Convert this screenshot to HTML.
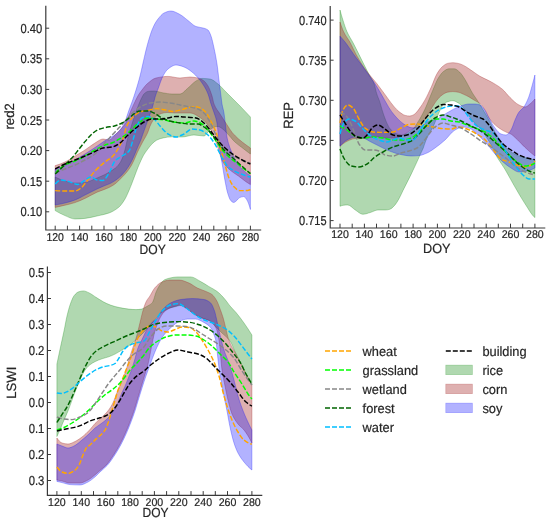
<!DOCTYPE html>
<html><head><meta charset="utf-8"><title>chart</title>
<style>html,body{margin:0;padding:0;background:#fff}svg{display:block}text{text-rendering:geometricPrecision;font-family:"Liberation Sans",sans-serif;fill:#262626;stroke:#262626;stroke-width:0.2px}</style>
</head><body>
<svg width="550" height="522" viewBox="0 0 550 522">
<rect width="550" height="522" fill="#fff"/>
<path d="M55.2,177.0C58.5,178.7 61.7,180.1 65.0,181.0C68.3,181.9 71.7,183.0 75.0,183.0C78.3,183.0 81.7,182.7 85.0,182.4C89.0,182.0 93.0,179.6 97.0,178.0C99.7,176.9 102.3,175.8 105.0,174.5C106.7,173.7 108.3,172.6 110.0,171.6C111.9,170.4 113.8,169.4 115.7,167.8C117.3,166.4 118.9,164.6 120.5,162.0C121.5,160.4 122.4,158.0 123.4,155.3C124.0,153.5 124.7,151.1 125.3,148.6C125.9,146.1 126.6,142.5 127.2,140.0C128.1,136.6 128.9,133.9 129.8,131.0C130.8,127.8 131.7,124.6 132.7,121.6C133.6,118.7 134.6,115.7 135.5,113.0C136.5,110.2 137.4,107.7 138.4,105.3C139.4,102.9 140.3,100.5 141.3,98.6C142.3,96.7 143.2,94.7 144.2,93.8C145.5,92.6 146.7,91.6 148.0,91.4C149.9,91.1 151.8,91.0 153.7,91.0C156.9,91.0 160.1,92.4 163.3,92.9C166.2,93.3 169.1,94.0 172.0,94.0C174.7,94.0 177.3,94.0 180.0,94.0C182.7,94.0 185.3,90.2 188.0,88.0C190.7,85.8 193.3,82.5 196.0,81.0C198.0,79.9 200.0,78.4 202.0,78.4C204.7,78.4 207.3,78.6 210.0,79.0C212.7,79.4 215.3,81.9 218.0,84.0C220.7,86.1 223.3,89.3 226.0,92.0C227.3,93.3 228.7,94.7 230.0,96.0C233.3,99.3 236.7,102.6 240.0,106.0C243.5,109.6 246.9,113.2 250.4,117.0L250.4,154.0C247.5,151.8 244.5,149.6 241.6,147.3C239.4,145.6 237.1,144.1 234.9,142.0C232.2,139.5 229.5,135.7 226.8,133.0C225.2,131.4 223.6,129.5 222.0,128.5C220.7,127.6 219.3,126.5 218.0,126.5C216.3,126.5 214.7,126.9 213.0,127.5C211.7,127.9 210.3,129.8 209.0,131.0C207.3,132.6 205.7,136.0 204.0,136.0C200.7,136.0 197.3,135.0 194.0,135.0C190.0,135.0 186.0,137.0 182.0,137.0C178.7,137.0 175.3,136.8 172.0,136.8C169.1,136.8 166.2,137.4 163.3,137.9C161.2,138.3 159.0,139.0 156.9,140.0C155.3,140.8 153.7,142.3 152.1,143.8C150.5,145.3 149.0,147.5 147.4,149.6C146.1,151.3 144.8,153.1 143.5,155.3C142.6,156.9 141.6,159.1 140.7,161.1C139.7,163.2 138.8,165.4 137.8,167.8C136.8,170.2 135.9,172.9 134.9,175.4C133.9,177.9 133.0,180.6 132.0,183.1C131.1,185.5 130.1,187.9 129.2,190.0C127.8,193.2 126.4,196.7 125.0,199.0C123.0,202.3 121.0,205.3 119.0,207.0C115.7,209.8 112.3,211.8 109.0,213.0C105.0,214.4 101.0,215.1 97.0,216.0C93.0,216.9 89.0,218.0 85.0,218.4C81.7,218.7 78.3,219.0 75.0,219.0C71.7,219.0 68.3,217.0 65.0,215.6C61.7,214.3 58.5,212.5 55.2,210.6Z" fill="#008000" fill-opacity="0.31" stroke="#008000" stroke-opacity="0.31" stroke-width="0.9"/>
<path d="M55.2,165.6C58.5,164.8 61.7,163.5 65.0,162.0C68.3,160.5 71.7,158.0 75.0,156.0C78.3,154.0 81.7,152.2 85.0,150.0C88.3,147.8 91.7,144.9 95.0,143.0C97.7,141.5 100.3,139.0 103.0,139.0C105.0,139.0 107.0,140.0 109.0,140.0C111.3,140.0 113.7,136.2 116.0,134.0C118.0,132.2 120.0,130.3 122.0,128.0C123.3,126.4 124.7,124.8 126.0,122.5C127.6,119.8 129.1,114.7 130.7,111.1C132.0,108.1 133.3,105.2 134.6,102.5C135.9,99.9 137.1,97.1 138.4,95.0C139.6,93.0 140.8,91.6 142.0,90.0C143.7,87.8 145.3,85.5 147.0,84.0C150.0,81.4 153.0,78.7 156.0,78.0C160.0,77.1 164.0,76.4 168.0,76.4C172.0,76.4 176.0,78.0 180.0,78.0C183.3,78.0 186.7,77.0 190.0,77.0C192.7,77.0 195.3,77.5 198.0,78.0C200.0,78.4 202.0,79.5 204.0,81.0C205.3,82.0 206.7,83.8 208.0,86.0C209.3,88.2 210.7,91.8 212.0,96.0C212.7,98.1 213.3,102.3 214.0,104.0C216.0,109.1 218.0,110.8 220.0,114.0C222.3,117.6 224.5,121.1 226.8,124.5C228.6,127.2 230.4,130.4 232.2,132.6C234.4,135.3 236.7,137.3 238.9,139.3C241.1,141.3 243.4,142.9 245.6,144.6C247.2,145.8 248.8,146.9 250.4,148.0L250.4,184.6C248.9,183.7 247.4,182.7 245.9,181.7C243.5,180.0 241.1,177.9 238.7,176.2C237.0,175.0 235.4,174.0 233.7,172.8C231.7,171.3 229.8,170.0 227.8,168.0C226.1,166.3 224.5,164.6 222.8,161.7C220.5,157.8 218.3,147.8 216.0,142.0C214.0,136.8 212.0,131.1 210.0,128.0C207.3,123.9 204.7,120.9 202.0,119.0C198.0,116.2 194.0,113.0 190.0,113.0C185.0,113.0 180.0,113.0 175.0,113.0C172.4,113.0 169.7,112.5 167.1,112.5C165.2,112.5 163.3,113.0 161.4,113.5C159.8,113.9 158.2,114.7 156.6,115.9C155.3,116.8 154.1,118.7 152.8,120.7C151.8,122.2 150.9,124.2 149.9,126.4C149.1,128.3 148.3,131.3 147.5,133.1C146.3,135.7 145.2,137.4 144.0,139.5C142.8,141.6 141.7,143.7 140.5,146.0C139.4,148.1 138.4,150.2 137.3,152.5C136.3,154.6 135.4,157.1 134.4,159.2C133.3,161.6 132.2,164.0 131.1,165.9C129.7,168.3 128.2,170.3 126.8,172.1C125.0,174.3 123.3,176.0 121.5,177.8C119.6,179.8 117.6,181.9 115.7,183.4C113.8,184.9 111.9,186.0 110.0,187.0C108.3,187.9 106.7,188.5 105.0,189.2C102.3,190.3 99.7,191.1 97.0,192.2C93.0,193.9 89.0,196.6 85.0,198.4C81.7,199.9 78.3,201.5 75.0,202.6C71.7,203.7 68.3,204.4 65.0,205.2C61.7,206.0 58.5,206.7 55.2,207.4Z" fill="#a52a2a" fill-opacity="0.37" stroke="#a52a2a" stroke-opacity="0.37" stroke-width="0.9"/>
<path d="M55.2,169.0C58.5,168.1 61.7,166.9 65.0,165.5C68.3,164.1 71.7,161.9 75.0,160.0C78.3,158.1 81.7,156.1 85.0,154.0C88.3,151.9 91.7,149.7 95.0,147.5C97.7,145.7 100.3,143.8 103.0,142.0C104.0,141.3 105.0,140.6 106.0,140.0C109.3,137.9 112.7,136.7 116.0,134.0C118.7,131.8 121.3,128.7 124.0,124.0C125.7,121.0 127.3,114.5 129.0,110.0C130.0,107.3 131.0,104.8 132.0,102.0C133.3,98.2 134.7,94.3 136.0,90.0C137.3,85.7 138.7,81.2 140.0,76.0C141.0,72.1 142.0,67.3 143.0,63.0C144.0,58.7 145.0,54.0 146.0,50.0C147.0,46.0 148.0,42.3 149.0,39.0C150.0,35.7 151.0,32.5 152.0,30.0C153.0,27.5 154.0,25.3 155.0,23.5C156.0,21.7 157.0,20.2 158.0,19.0C160.0,16.5 162.0,13.9 164.0,13.0C166.3,11.9 168.7,11.0 171.0,11.0C174.0,11.0 177.0,13.0 180.0,14.5C182.7,15.9 185.3,18.5 188.0,20.5C190.7,22.5 193.3,25.6 196.0,26.5C198.7,27.4 201.3,27.4 204.0,28.2C205.3,28.6 206.7,29.0 208.0,30.0C209.0,30.8 210.0,33.3 211.0,36.0C212.0,38.7 213.0,43.4 214.0,48.0C215.0,52.6 216.0,57.5 217.0,64.0C217.7,68.3 218.3,74.7 219.0,80.0C219.7,85.3 220.3,90.7 221.0,96.0C221.3,98.7 221.7,102.0 222.0,104.0C222.6,107.5 223.2,108.6 223.8,112.0C224.4,115.2 224.9,120.4 225.5,125.0C225.9,128.5 226.4,133.5 226.8,136.0C227.5,140.2 228.3,142.7 229.0,145.0C229.9,147.9 230.8,150.0 231.7,152.0C233.7,156.5 235.7,160.8 237.7,163.7C239.7,166.6 241.7,168.9 243.7,170.7C245.9,172.7 248.2,174.5 250.4,175.7L250.4,209.5C249.2,205.1 247.9,201.4 246.7,199.6C245.7,198.2 244.7,196.6 243.7,196.6C242.4,196.6 241.0,197.1 239.7,197.6C238.7,198.0 237.7,199.7 236.7,200.5C235.7,201.3 234.7,202.5 233.7,202.5C232.7,202.5 231.7,201.5 230.7,200.5C229.7,199.5 228.8,196.6 227.8,193.6C226.8,190.5 225.8,185.0 224.8,179.7C224.1,176.2 223.5,171.7 222.8,167.7C221.8,161.7 220.8,157.1 219.8,149.8C218.8,142.5 217.8,126.9 216.8,122.0C215.8,117.1 214.8,115.1 213.8,112.0C212.9,109.1 211.9,106.9 211.0,104.0C210.0,100.9 209.0,96.5 208.0,94.0C206.7,90.6 205.3,88.2 204.0,86.0C202.3,83.2 200.7,81.0 199.0,79.0C196.7,76.3 194.3,73.8 192.0,72.0C189.3,69.9 186.7,68.0 184.0,67.0C181.3,66.0 178.7,65.0 176.0,65.0C173.3,65.0 170.7,67.0 168.0,69.0C166.3,70.3 164.7,73.0 163.0,76.0C161.3,79.0 159.7,84.6 158.0,89.0C157.2,91.2 156.3,93.1 155.5,95.7C154.9,97.6 154.3,100.3 153.7,102.5C153.1,104.8 152.4,107.2 151.8,109.2C151.0,111.7 150.2,113.7 149.4,115.9C148.6,118.1 147.8,120.4 147.0,122.6C146.2,124.8 145.4,127.1 144.6,129.3C143.8,131.5 143.0,133.7 142.2,136.0C141.7,137.3 141.3,138.8 140.8,140.0C140.1,141.8 139.4,143.2 138.7,144.8C137.9,146.7 137.1,148.6 136.3,150.5C135.4,152.7 134.4,155.2 133.5,157.2C132.4,159.7 131.2,161.9 130.1,163.9C128.8,166.1 127.6,168.0 126.3,169.7C124.7,171.8 123.1,173.8 121.5,175.4C119.6,177.3 117.6,178.9 115.7,180.2C113.8,181.5 111.9,182.7 110.0,183.6C108.3,184.4 106.7,184.8 105.0,185.5C102.3,186.6 99.7,187.8 97.0,189.0C93.0,190.9 89.0,193.0 85.0,195.0C81.7,196.7 78.3,198.8 75.0,200.0C71.7,201.2 68.3,202.2 65.0,203.0C61.7,203.8 58.5,204.5 55.2,205.0Z" fill="#0000ff" fill-opacity="0.3" stroke="#0000ff" stroke-opacity="0.3" stroke-width="0.9"/>
<path d="M55.2,190.6C58.5,190.8 61.7,191.0 65.0,191.0C68.3,191.0 71.7,191.0 75.0,191.0C77.0,191.0 79.0,189.4 81.0,188.0C83.0,186.6 85.0,183.4 87.0,181.0C89.7,177.8 92.3,173.8 95.0,171.0C98.3,167.5 101.7,164.7 105.0,162.0C107.7,159.8 110.3,158.7 113.0,156.0C115.0,154.0 117.0,150.6 119.0,147.0C120.7,144.0 122.3,140.9 124.0,136.0C124.7,134.0 125.3,129.7 126.0,128.0C128.0,122.9 130.0,120.1 132.0,118.0C134.7,115.2 137.3,112.9 140.0,112.0C143.3,110.9 146.5,110.6 149.8,109.9C152.0,109.4 154.2,108.6 156.4,108.6C159.1,108.6 161.8,109.3 164.5,109.8C167.2,110.3 170.0,111.4 172.7,111.4C175.4,111.4 178.2,110.5 180.9,109.9C183.6,109.3 186.4,108.0 189.1,107.5C191.3,107.1 193.4,106.7 195.6,106.7C197.8,106.7 200.0,107.8 202.2,109.0C203.8,109.9 205.5,111.7 207.1,113.9C208.2,115.4 209.3,118.1 210.4,120.3C211.1,121.7 211.8,123.1 212.5,124.5C213.7,126.9 214.8,128.9 216.0,132.0C217.3,135.5 218.7,141.2 220.0,146.0C221.6,151.7 223.2,158.0 224.8,163.7C226.1,168.5 227.5,174.5 228.8,177.7C230.4,181.6 232.1,185.0 233.7,186.6C235.7,188.6 237.7,190.6 239.7,190.6C241.7,190.6 243.7,190.6 245.7,190.6C247.3,190.6 248.8,190.1 250.4,189.6" fill="none" stroke="#ffa500" stroke-width="1.45" stroke-dasharray="5 2"/>
<path d="M55.2,173.0C58.5,169.7 61.7,166.8 65.0,165.0C68.3,163.2 71.7,162.5 75.0,161.0C78.3,159.5 81.7,157.8 85.0,156.0C88.3,154.2 91.7,151.8 95.0,150.0C98.3,148.2 101.7,146.3 105.0,145.0C107.7,144.0 110.3,143.6 113.0,142.5C115.7,141.4 118.3,139.7 121.0,138.0C123.7,136.3 126.3,134.2 129.0,132.0C132.7,129.0 136.3,124.3 140.0,122.0C142.7,120.3 145.3,118.0 148.0,118.0C150.7,118.0 153.3,118.7 156.0,119.0C158.7,119.3 161.3,119.6 164.0,120.0C167.3,120.5 170.7,121.6 174.0,122.0C177.3,122.4 180.7,123.0 184.0,123.0C187.3,123.0 190.7,121.0 194.0,121.0C196.7,121.0 199.3,122.5 202.0,124.0C204.0,125.1 206.0,127.7 208.0,130.0C210.0,132.3 212.0,135.2 214.0,138.0C216.0,140.8 218.0,144.4 220.0,147.0C222.7,150.5 225.3,153.5 228.0,156.0C231.3,159.1 234.7,161.3 238.0,164.0C240.7,166.2 243.3,168.5 246.0,170.5C247.5,171.6 248.9,172.7 250.4,173.7" fill="none" stroke="#00ff00" stroke-width="1.45" stroke-dasharray="5 2"/>
<path d="M55.2,173.0C58.5,171.7 61.7,170.3 65.0,169.0C68.3,167.7 71.7,166.5 75.0,165.0C78.3,163.5 81.7,161.8 85.0,160.0C88.3,158.2 91.7,156.6 95.0,154.0C97.3,152.2 99.7,149.2 102.0,146.5C103.6,144.7 105.1,142.6 106.7,140.8C108.2,139.1 109.8,137.6 111.3,136.0C112.8,134.4 114.4,132.5 115.9,130.9C117.2,129.6 118.4,128.3 119.7,127.0C121.8,124.8 123.9,122.3 126.0,120.0C128.7,117.1 131.3,113.7 134.0,111.5C136.7,109.3 139.3,107.3 142.0,106.0C144.7,104.7 147.3,103.4 150.0,103.0C153.3,102.5 156.7,102.0 160.0,102.0C163.3,102.0 166.7,102.6 170.0,103.0C173.3,103.4 176.7,104.3 180.0,105.0C183.3,105.7 186.7,106.3 190.0,107.0C192.7,107.6 195.3,108.0 198.0,109.0C200.0,109.7 202.0,111.2 204.0,113.0C206.0,114.8 208.0,118.5 210.0,122.0C212.0,125.5 214.0,131.3 216.0,135.0C218.7,140.0 221.3,145.1 224.0,148.0C227.3,151.6 230.7,153.9 234.0,156.0C237.3,158.1 240.7,159.7 244.0,161.0C246.1,161.8 248.3,162.5 250.4,163.0" fill="none" stroke="#888888" stroke-width="1.45" stroke-dasharray="5 2"/>
<path d="M55.2,174.0C58.6,170.9 61.9,167.7 65.3,164.4C67.9,161.9 70.4,159.6 73.0,156.7C75.0,154.4 77.1,151.5 79.1,149.0C81.1,146.5 83.2,143.8 85.2,141.4C87.3,139.0 89.3,136.4 91.4,134.5C93.4,132.7 95.5,130.8 97.5,129.9C100.1,128.8 102.6,128.2 105.2,127.6C108.3,126.9 111.3,126.7 114.4,126.0C116.9,125.4 119.5,124.3 122.0,123.0C124.6,121.7 127.1,119.6 129.7,117.6C131.1,116.5 132.6,114.7 134.0,113.8C136.0,112.6 138.0,111.0 140.0,111.0C142.7,111.0 145.3,111.0 148.0,111.0C150.0,111.0 152.0,112.1 154.0,113.0C156.7,114.1 159.3,116.8 162.0,118.0C164.7,119.2 167.3,120.3 170.0,121.0C173.3,121.9 176.7,122.6 180.0,123.0C183.3,123.4 186.7,124.0 190.0,124.0C192.7,124.0 195.3,124.0 198.0,124.0C200.0,124.0 202.0,125.8 204.0,127.0C206.0,128.2 208.0,129.9 210.0,132.0C212.0,134.1 214.0,137.4 216.0,140.0C218.7,143.4 221.3,147.2 224.0,150.0C227.3,153.5 230.7,156.0 234.0,159.0C237.3,162.0 240.7,165.1 244.0,168.0C246.1,169.9 248.3,171.7 250.4,173.5" fill="none" stroke="#006400" stroke-width="1.45" stroke-dasharray="5 2"/>
<path d="M55.2,184.0C57.1,181.9 59.1,180.0 61.0,180.0C63.7,180.0 66.3,181.0 69.0,181.6C72.0,182.3 75.0,184.4 78.0,184.4C80.3,184.4 82.7,181.3 85.0,180.0C87.0,178.9 89.0,177.0 91.0,177.0C93.0,177.0 95.0,179.8 97.0,180.0C99.0,180.2 101.0,180.4 103.0,180.4C105.0,180.4 107.0,176.1 109.0,173.0C111.0,169.9 113.0,163.1 115.0,161.0C117.3,158.5 119.7,157.7 122.0,156.0C124.3,154.3 126.7,153.8 129.0,151.0C130.3,149.4 131.7,144.1 133.0,140.0C134.3,135.9 135.7,129.0 137.0,126.0C138.7,122.3 140.3,118.8 142.0,118.0C144.0,117.1 146.0,116.4 148.0,116.4C150.0,116.4 152.0,117.7 154.0,119.0C156.0,120.3 158.0,123.8 160.0,126.0C162.7,128.9 165.3,132.5 168.0,134.0C170.7,135.5 173.3,137.0 176.0,137.0C178.7,137.0 181.3,135.2 184.0,134.0C186.7,132.8 189.3,129.0 192.0,129.0C194.7,129.0 197.3,129.4 200.0,130.0C202.7,130.6 205.3,132.7 208.0,135.0C210.1,136.8 212.2,139.8 214.3,143.0C215.7,145.2 217.2,148.3 218.6,151.0C220.0,153.7 221.5,156.5 222.9,159.0C224.3,161.5 225.8,164.4 227.2,165.9C229.1,167.9 231.1,169.1 233.0,170.2C234.9,171.3 236.8,172.2 238.7,173.0C240.6,173.8 242.6,174.5 244.5,175.2C246.5,175.9 248.4,176.5 250.4,177.0" fill="none" stroke="#00bfff" stroke-width="1.45" stroke-dasharray="5 2"/>
<path d="M55.2,169.0C58.5,167.2 61.7,165.5 65.0,164.0C68.3,162.5 71.7,161.3 75.0,160.0C78.3,158.7 81.7,157.4 85.0,156.0C88.3,154.6 91.7,153.1 95.0,151.6C97.7,150.4 100.3,148.5 103.0,148.0C106.0,147.5 109.0,147.6 112.0,147.0C114.7,146.5 117.3,144.8 120.0,143.0C122.7,141.2 125.3,137.5 128.0,135.0C130.7,132.5 133.3,130.2 136.0,128.0C138.7,125.8 141.3,123.3 144.0,122.0C146.7,120.7 149.3,119.0 152.0,119.0C154.7,119.0 157.3,119.0 160.0,119.0C162.7,119.0 165.3,118.4 168.0,118.0C170.7,117.6 173.3,116.4 176.0,116.4C178.7,116.4 181.3,116.8 184.0,117.0C188.0,117.3 192.0,117.4 196.0,118.0C198.7,118.4 201.3,120.8 204.0,123.0C206.0,124.7 208.0,127.5 210.0,130.0C212.0,132.5 214.0,135.5 216.0,138.0C218.7,141.3 221.3,144.5 224.0,147.0C227.3,150.1 230.7,152.7 234.0,155.0C237.3,157.3 240.7,159.3 244.0,161.0C246.1,162.1 248.3,163.1 250.4,164.0" fill="none" stroke="#000000" stroke-width="1.45" stroke-dasharray="5 2"/>
<path d="M45.8,5.8V230.0H261.2" fill="none" stroke="#3a3a3a" stroke-width="1.2"/>
<path d="M45.8,211.8h3.4M45.8,181.2h3.4M45.8,150.6h3.4M45.8,120.0h3.4M45.8,89.4h3.4M45.8,58.8h3.4M45.8,28.2h3.4M55.2,230.0v-4.3M67.4,230.0v-4.3M79.6,230.0v-4.3M91.8,230.0v-4.3M104.0,230.0v-4.3M116.2,230.0v-4.3M128.4,230.0v-4.3M140.6,230.0v-4.3M152.8,230.0v-4.3M165.0,230.0v-4.3M177.2,230.0v-4.3M189.4,230.0v-4.3M201.6,230.0v-4.3M213.8,230.0v-4.3M226.0,230.0v-4.3M238.2,230.0v-4.3M250.4,230.0v-4.3" stroke="#3a3a3a" stroke-width="1" fill="none"/>
<text x="42.2" y="216.3" text-anchor="end" font-size="13.0" textLength="21.7" lengthAdjust="spacingAndGlyphs">0.10</text>
<text x="42.2" y="185.7" text-anchor="end" font-size="13.0" textLength="21.7" lengthAdjust="spacingAndGlyphs">0.15</text>
<text x="42.2" y="155.1" text-anchor="end" font-size="13.0" textLength="21.7" lengthAdjust="spacingAndGlyphs">0.20</text>
<text x="42.2" y="124.5" text-anchor="end" font-size="13.0" textLength="21.7" lengthAdjust="spacingAndGlyphs">0.25</text>
<text x="42.2" y="93.9" text-anchor="end" font-size="13.0" textLength="21.7" lengthAdjust="spacingAndGlyphs">0.30</text>
<text x="42.2" y="63.3" text-anchor="end" font-size="13.0" textLength="21.7" lengthAdjust="spacingAndGlyphs">0.35</text>
<text x="42.2" y="32.7" text-anchor="end" font-size="13.0" textLength="21.7" lengthAdjust="spacingAndGlyphs">0.40</text>
<text x="55.2" y="240.6" text-anchor="middle" font-size="11.4" textLength="17.5" lengthAdjust="spacingAndGlyphs">120</text>
<text x="79.6" y="240.6" text-anchor="middle" font-size="11.4" textLength="17.5" lengthAdjust="spacingAndGlyphs">140</text>
<text x="104.0" y="240.6" text-anchor="middle" font-size="11.4" textLength="17.5" lengthAdjust="spacingAndGlyphs">160</text>
<text x="128.4" y="240.6" text-anchor="middle" font-size="11.4" textLength="17.5" lengthAdjust="spacingAndGlyphs">180</text>
<text x="152.8" y="240.6" text-anchor="middle" font-size="11.4" textLength="17.5" lengthAdjust="spacingAndGlyphs">200</text>
<text x="177.2" y="240.6" text-anchor="middle" font-size="11.4" textLength="17.5" lengthAdjust="spacingAndGlyphs">220</text>
<text x="201.6" y="240.6" text-anchor="middle" font-size="11.4" textLength="17.5" lengthAdjust="spacingAndGlyphs">240</text>
<text x="226.0" y="240.6" text-anchor="middle" font-size="11.4" textLength="17.5" lengthAdjust="spacingAndGlyphs">260</text>
<text x="250.4" y="240.6" text-anchor="middle" font-size="11.4" textLength="17.5" lengthAdjust="spacingAndGlyphs">280</text>
<text x="152.6" y="253.5" text-anchor="middle" font-size="13.3" textLength="26.2" lengthAdjust="spacingAndGlyphs">DOY</text>
<text transform="translate(14.3,116.4) rotate(-90)" text-anchor="middle" font-size="13.4" textLength="26.2" lengthAdjust="spacingAndGlyphs">red2</text>
<path d="M340.0,10.0C341.0,13.6 341.9,17.0 342.9,20.0C344.2,24.2 345.6,28.5 346.9,31.5C349.0,36.3 351.1,39.0 353.2,43.0C355.1,46.7 357.1,50.6 359.0,54.5C360.7,58.0 362.5,61.5 364.2,65.0C365.3,67.2 366.4,69.4 367.5,71.5C368.4,73.2 369.3,74.7 370.2,76.4C371.5,78.9 372.9,80.5 374.2,84.0C375.0,86.0 375.7,90.5 376.5,93.0C377.6,96.7 378.8,98.7 379.9,102.2C380.7,104.6 381.4,107.7 382.2,110.2C383.0,112.7 383.7,115.0 384.5,117.1C385.3,119.2 386.0,121.3 386.8,122.9C388.0,125.3 389.1,127.6 390.3,129.0C391.9,130.8 393.4,132.3 395.0,133.0C397.3,134.0 399.7,135.0 402.0,135.0C404.3,135.0 406.7,133.7 409.0,132.5C410.4,131.8 411.9,130.5 413.3,129.0C414.4,127.8 415.6,125.8 416.7,124.0C417.9,122.2 419.0,120.3 420.2,118.3C421.8,115.5 423.4,112.5 425.0,109.1C425.8,107.4 426.6,105.4 427.4,103.5C429.2,99.2 431.0,94.4 432.8,90.2C434.6,86.0 436.4,81.1 438.2,78.2C440.0,75.4 441.7,72.8 443.5,71.5C445.3,70.2 447.1,68.8 448.9,68.8C450.7,68.8 452.5,68.8 454.3,68.8C456.1,68.8 457.8,70.6 459.6,72.1C461.4,73.6 463.2,76.7 465.0,79.5C466.3,81.6 467.7,84.4 469.0,86.8C470.3,89.2 471.7,91.8 473.0,94.0C474.4,96.2 475.7,97.9 477.1,100.0C478.7,102.5 480.4,105.3 482.0,108.0C484.3,111.9 486.7,115.7 489.0,120.0C491.0,123.7 493.0,128.5 495.0,132.0C497.7,136.6 500.3,140.8 503.0,144.0C505.7,147.2 508.3,150.2 511.0,152.0C513.7,153.8 516.3,155.1 519.0,156.0C521.7,156.9 524.3,157.3 527.0,158.0C529.6,158.7 532.3,159.3 534.9,160.0L534.9,217.6C534.1,216.9 533.2,216.0 532.4,215.0C530.7,213.0 529.1,210.1 527.4,207.5C524.9,203.6 522.4,199.7 519.9,195.5C517.4,191.3 514.9,186.9 512.4,182.5C509.9,178.1 507.3,173.2 504.8,169.0C502.3,164.9 499.8,161.8 497.3,157.5C494.9,153.3 492.4,147.2 490.0,143.0C486.7,137.3 483.3,131.9 480.0,128.0C477.2,124.8 474.5,123.5 471.7,120.0C470.8,118.9 469.9,117.1 469.0,115.7C467.2,112.9 465.4,109.7 463.6,107.7C461.8,105.7 460.1,104.0 458.3,103.0C456.5,102.0 454.7,100.7 452.9,100.7C450.7,100.7 448.4,101.4 446.2,102.3C444.9,102.8 443.5,104.5 442.2,106.3C440.8,108.2 439.4,111.9 438.0,115.0C436.3,118.7 434.7,123.6 433.0,127.0C431.7,129.7 430.3,131.4 429.0,134.0C427.9,136.1 426.8,138.3 425.7,141.0C424.9,143.1 424.0,146.1 423.2,148.2C422.1,150.8 421.1,152.6 420.0,155.0C419.3,156.5 418.7,158.1 418.0,159.6C417.0,161.8 416.0,164.0 415.0,166.1C413.7,168.8 412.5,171.6 411.2,174.2C409.8,177.0 408.5,179.7 407.1,182.4C405.7,185.1 404.4,187.7 403.0,190.5C401.7,193.2 400.3,196.4 399.0,198.7C397.5,201.3 396.0,203.9 394.5,205.5C392.9,207.2 391.4,208.9 389.8,209.3C388.3,209.7 386.9,210.0 385.4,210.0C382.9,210.0 380.4,210.0 377.9,210.0C375.4,210.0 372.8,211.8 370.3,212.5C367.8,213.2 365.3,214.3 362.8,214.3C360.3,214.3 357.8,211.5 355.3,210.0C352.8,208.5 350.3,205.0 347.8,205.0C345.2,205.0 342.6,205.0 340.0,206.3Z" fill="#008000" fill-opacity="0.31" stroke="#008000" stroke-opacity="0.31" stroke-width="0.9"/>
<path d="M340.0,22.1C341.2,25.6 342.3,29.0 343.5,31.5C345.8,36.4 348.1,38.8 350.4,43.0C352.3,46.5 354.2,51.0 356.1,54.5C358.4,58.7 360.7,62.5 363.0,66.0C364.2,67.8 365.3,69.4 366.5,71.0C367.9,72.9 369.3,74.6 370.7,76.3C372.6,78.7 374.6,80.8 376.5,83.2C378.4,85.6 380.3,88.1 382.2,90.7C384.1,93.3 386.1,96.1 388.0,98.7C389.9,101.3 391.8,104.0 393.7,106.2C395.6,108.4 397.6,110.6 399.5,112.0C401.4,113.4 403.3,115.0 405.2,115.4C406.7,115.7 408.3,116.0 409.8,116.0C411.3,116.0 412.9,115.2 414.4,114.3C415.9,113.4 417.5,111.1 419.0,109.1C421.0,106.5 423.0,103.4 425.0,99.9C427.2,96.1 429.3,91.3 431.5,86.5C433.3,82.6 435.0,77.1 436.8,74.1C438.6,71.0 440.4,68.4 442.2,66.8C444.0,65.3 445.7,63.8 447.5,63.4C449.3,63.0 451.1,62.7 452.9,62.7C454.7,62.7 456.5,63.1 458.3,63.4C460.1,63.7 461.8,64.6 463.6,65.4C465.4,66.2 467.2,67.6 469.0,68.8C470.8,70.0 472.6,71.3 474.4,72.5C476.3,73.8 478.1,75.2 480.0,76.3C482.7,77.9 485.5,78.9 488.2,80.3C490.6,81.6 493.1,82.9 495.5,84.4C497.9,85.9 500.3,87.4 502.7,89.5C505.1,91.6 507.6,95.2 510.0,97.5C513.0,100.4 516.0,103.6 519.0,105.0C521.0,105.9 523.0,107.0 525.0,107.0C526.7,107.0 528.3,105.3 530.0,104.0C531.6,102.8 533.3,101.0 534.9,99.0L534.9,156.0C531.5,153.3 528.2,150.4 524.8,147.2C522.3,144.9 519.9,141.9 517.4,139.7C514.9,137.4 512.4,134.6 509.9,133.5C508.9,133.1 508.0,132.9 507.0,132.5C504.3,131.4 501.7,129.9 499.0,128.0C495.7,125.6 492.3,122.7 489.0,118.0C487.7,116.1 486.3,112.1 485.0,110.0C483.3,107.4 481.7,105.0 480.0,103.6C478.1,102.1 476.3,101.4 474.4,100.3C472.6,99.2 470.8,97.9 469.0,96.9C467.2,95.9 465.4,95.1 463.6,94.3C461.8,93.5 460.1,92.5 458.3,92.2C456.5,91.9 454.7,91.6 452.9,91.6C451.1,91.6 449.3,91.9 447.5,92.2C445.7,92.5 444.0,93.7 442.2,94.9C440.4,96.1 438.6,98.1 436.8,100.3C435.5,101.9 434.1,104.2 432.8,106.3C431.5,108.4 430.1,110.7 428.8,113.0C427.5,115.3 426.1,118.6 424.8,120.0C423.5,121.4 422.3,121.9 421.0,123.0C419.7,124.1 418.3,125.6 417.0,126.5C415.0,127.9 413.0,128.8 411.0,130.0C409.0,131.2 407.0,133.0 405.0,134.0C401.7,135.7 398.3,138.0 395.0,138.0C391.7,138.0 388.3,138.0 385.0,138.0C381.7,138.0 378.3,136.5 375.0,136.5C372.7,136.5 370.3,137.7 368.0,138.0C366.0,138.3 364.0,138.6 362.0,138.6C359.7,138.6 357.3,138.6 355.0,138.6C352.3,138.6 349.7,140.1 347.0,141.3C344.7,142.4 342.3,144.3 340.0,146.5Z" fill="#a52a2a" fill-opacity="0.37" stroke="#a52a2a" stroke-opacity="0.37" stroke-width="0.9"/>
<path d="M340.0,36.2C341.9,38.3 343.9,40.5 345.8,43.0C348.5,46.4 351.1,50.8 353.8,54.5C356.5,58.3 359.3,61.8 362.0,65.5C363.9,68.1 365.9,70.8 367.8,73.5C369.9,76.5 372.1,79.4 374.2,82.6C376.1,85.5 378.0,88.6 379.9,91.8C381.4,94.4 383.0,97.2 384.5,99.9C386.0,102.6 387.6,105.5 389.1,107.9C390.6,110.3 392.2,112.4 393.7,114.3C395.2,116.2 396.8,117.9 398.3,119.4C399.8,120.9 401.4,122.3 402.9,123.4C404.4,124.5 406.0,125.6 407.5,126.3C409.0,127.0 410.6,127.8 412.1,127.8C413.7,127.8 415.4,127.7 417.0,127.5C419.0,127.3 421.0,126.0 423.0,125.0C425.0,124.0 427.0,121.7 429.0,121.0C431.7,120.0 434.3,120.0 437.0,119.0C439.2,118.2 441.3,116.3 443.5,115.0C445.7,113.6 448.0,112.2 450.2,111.0C452.5,109.7 454.7,108.5 457.0,107.5C458.7,106.8 460.3,106.0 462.0,105.5C464.3,104.8 466.7,104.0 469.0,104.0C471.0,104.0 473.0,104.0 475.0,104.0C476.7,104.0 478.3,104.4 480.0,105.0C481.3,105.5 482.7,107.3 484.0,109.0C485.7,111.1 487.3,115.1 489.0,118.0C491.0,121.5 493.0,125.5 495.0,128.0C497.0,130.5 499.0,133.3 501.0,134.0C502.7,134.5 504.3,135.0 506.0,135.0C507.7,135.0 509.3,132.4 511.0,130.0C512.3,128.1 513.7,123.0 515.0,120.0C516.3,117.0 517.7,113.8 519.0,112.0C520.5,109.9 522.1,109.4 523.6,107.3C525.3,105.1 526.9,101.6 528.6,97.4C529.8,94.3 531.1,89.3 532.3,84.9C533.2,81.8 534.0,78.5 534.9,75.0L534.9,168.0C532.3,169.3 529.6,170.5 527.0,171.0C524.3,171.5 521.7,172.0 519.0,172.0C516.3,172.0 513.7,169.6 511.0,168.0C508.3,166.4 505.7,164.3 503.0,162.0C500.3,159.7 497.7,157.0 495.0,154.0C492.3,151.0 489.7,147.0 487.0,144.0C484.3,141.0 481.7,138.4 479.0,136.0C475.7,133.0 472.3,128.9 469.0,128.0C467.0,127.5 465.0,127.0 463.0,127.0C460.3,127.0 457.7,128.6 455.0,130.0C451.7,131.8 448.3,137.0 445.0,140.0C441.7,143.0 438.3,145.7 435.0,148.0C432.3,149.9 429.7,151.9 427.0,153.0C424.3,154.1 421.7,155.4 419.0,155.6C416.3,155.8 413.7,156.0 411.0,156.0C408.3,156.0 405.7,155.4 403.0,155.0C400.3,154.6 397.7,153.8 395.0,153.0C392.3,152.2 389.7,151.1 387.0,150.0C384.3,148.9 381.7,147.3 379.0,146.0C376.3,144.7 373.7,143.3 371.0,142.0C368.3,140.7 365.7,138.5 363.0,138.0C360.3,137.5 357.7,137.0 355.0,137.0C352.3,137.0 349.7,138.6 347.0,140.0C344.7,141.2 342.3,143.5 340.0,146.0Z" fill="#0000ff" fill-opacity="0.3" stroke="#0000ff" stroke-opacity="0.3" stroke-width="0.9"/>
<path d="M340.0,123.0C341.0,117.4 342.0,111.7 343.0,110.0C344.7,107.1 346.3,105.0 348.0,105.0C349.7,105.0 351.3,106.5 353.0,108.0C355.0,109.8 357.0,115.7 359.0,119.0C361.0,122.3 363.0,126.5 365.0,128.0C367.7,130.0 370.3,131.8 373.0,132.0C376.3,132.3 379.7,132.4 383.0,132.4C386.3,132.4 389.7,132.3 393.0,132.0C395.7,131.8 398.3,129.3 401.0,128.0C403.7,126.7 406.3,124.6 409.0,124.4C411.7,124.2 414.3,124.0 417.0,124.0C419.7,124.0 422.3,125.1 425.0,125.6C427.7,126.1 430.3,126.5 433.0,127.0C435.7,127.5 438.3,128.3 441.0,128.5C444.3,128.8 447.7,129.0 451.0,129.0C453.7,129.0 456.3,127.0 459.0,127.0C461.7,127.0 464.3,128.1 467.0,129.0C469.7,129.9 472.3,131.5 475.0,133.0C477.7,134.5 480.3,135.9 483.0,138.0C485.0,139.6 487.0,141.7 489.0,144.0C491.0,146.3 493.0,149.5 495.0,152.0C497.0,154.5 499.0,157.8 501.0,159.0C503.7,160.6 506.3,161.0 509.0,162.0C511.7,163.0 514.3,164.2 517.0,165.0C519.7,165.8 522.3,167.0 525.0,167.0C527.0,167.0 529.0,166.0 531.0,165.0C532.3,164.3 533.6,162.7 534.9,161.0" fill="none" stroke="#ffa500" stroke-width="1.45" stroke-dasharray="5 2"/>
<path d="M340.0,126.0C342.3,127.1 344.7,128.5 347.0,130.0C349.7,131.7 352.3,135.0 355.0,136.0C357.7,137.0 360.3,138.0 363.0,138.0C366.3,138.0 369.7,137.0 373.0,137.0C376.3,137.0 379.7,137.6 383.0,138.0C386.3,138.4 389.7,140.0 393.0,140.0C396.3,140.0 399.7,140.0 403.0,140.0C405.7,140.0 408.3,139.0 411.0,138.0C413.7,137.0 416.3,134.2 419.0,132.0C421.7,129.8 424.3,127.2 427.0,125.0C429.7,122.8 432.3,119.0 435.0,119.0C437.7,119.0 440.3,119.0 443.0,119.0C445.7,119.0 448.3,120.6 451.0,121.0C453.7,121.4 456.3,121.5 459.0,122.0C461.7,122.5 464.3,124.0 467.0,125.0C469.7,126.0 472.3,127.0 475.0,128.0C478.3,129.3 481.7,130.2 485.0,132.0C487.7,133.4 490.3,135.6 493.0,138.0C495.7,140.4 498.3,144.2 501.0,147.0C503.7,149.8 506.3,152.5 509.0,155.0C511.7,157.5 514.3,160.3 517.0,162.0C519.7,163.7 522.3,166.0 525.0,166.0C527.0,166.0 529.0,165.5 531.0,165.0C532.3,164.7 533.6,163.8 534.9,163.0" fill="none" stroke="#00ff00" stroke-width="1.45" stroke-dasharray="5 2"/>
<path d="M340.0,113.0C341.3,113.0 342.7,113.5 344.0,114.0C345.7,114.7 347.3,117.4 349.0,120.0C351.0,123.1 353.0,129.2 355.0,134.0C356.3,137.2 357.7,142.0 359.0,144.0C361.0,146.9 363.0,150.0 365.0,150.0C367.7,150.0 370.3,150.0 373.0,150.0C375.0,150.0 377.0,150.5 379.0,151.0C381.0,151.5 383.0,154.6 385.0,155.0C387.7,155.6 390.3,156.0 393.0,156.0C395.7,156.0 398.3,153.8 401.0,153.0C403.7,152.2 406.3,151.8 409.0,151.0C411.7,150.2 414.3,149.5 417.0,148.0C419.0,146.9 421.0,144.3 423.0,142.0C425.0,139.7 427.0,136.5 429.0,134.0C431.0,131.5 433.0,128.4 435.0,127.0C437.7,125.1 440.3,123.0 443.0,123.0C445.7,123.0 448.3,124.3 451.0,125.0C454.3,125.9 457.7,126.7 461.0,128.0C464.3,129.3 467.7,131.8 471.0,134.0C474.3,136.2 477.7,138.8 481.0,141.0C484.3,143.2 487.7,144.8 491.0,147.0C493.7,148.8 496.3,151.0 499.0,153.0C501.7,155.0 504.3,156.8 507.0,159.0C509.7,161.2 512.3,164.1 515.0,166.0C517.7,167.9 520.3,169.8 523.0,171.0C525.7,172.2 528.3,173.2 531.0,174.0C532.3,174.4 533.6,174.7 534.9,175.0" fill="none" stroke="#888888" stroke-width="1.45" stroke-dasharray="5 2"/>
<path d="M340.0,149.0C341.7,153.6 343.3,157.7 345.0,160.0C347.0,162.8 349.0,165.5 351.0,166.0C353.7,166.6 356.3,167.0 359.0,167.0C361.7,167.0 364.3,165.4 367.0,164.0C369.7,162.6 372.3,158.9 375.0,157.0C377.7,155.1 380.3,153.5 383.0,152.0C386.3,150.1 389.7,148.2 393.0,147.0C396.3,145.8 399.7,145.1 403.0,144.0C405.7,143.1 408.3,142.4 411.0,141.0C413.7,139.6 416.3,136.6 419.0,134.0C421.7,131.4 424.3,127.6 427.0,125.0C429.7,122.4 432.3,119.4 435.0,118.0C437.7,116.6 440.3,115.0 443.0,115.0C445.7,115.0 448.3,116.2 451.0,117.0C453.7,117.8 456.3,118.9 459.0,120.0C462.3,121.4 465.7,123.3 469.0,125.0C472.3,126.7 475.7,128.1 479.0,130.0C482.3,131.9 485.7,134.4 489.0,137.0C491.7,139.1 494.3,141.7 497.0,144.0C499.7,146.3 502.3,148.5 505.0,151.0C507.7,153.5 510.3,156.5 513.0,159.0C515.7,161.5 518.3,164.1 521.0,166.0C523.7,167.9 526.3,169.8 529.0,171.0C531.0,171.9 532.9,172.6 534.9,173.0" fill="none" stroke="#006400" stroke-width="1.45" stroke-dasharray="5 2"/>
<path d="M340.0,134.0C341.3,129.2 342.7,124.7 344.0,123.0C345.7,120.9 347.3,119.0 349.0,119.0C351.0,119.0 353.0,120.0 355.0,121.0C357.7,122.3 360.3,126.5 363.0,129.0C365.7,131.5 368.3,134.3 371.0,136.0C373.7,137.7 376.3,139.1 379.0,140.0C381.7,140.9 384.3,142.0 387.0,142.0C389.0,142.0 391.0,140.7 393.0,140.0C395.0,139.3 397.0,138.0 399.0,138.0C401.7,138.0 404.3,140.0 407.0,140.0C409.0,140.0 411.0,140.0 413.0,140.0C415.0,140.0 417.0,134.8 419.0,132.0C421.0,129.2 423.0,125.6 425.0,123.0C427.0,120.4 429.0,117.9 431.0,116.0C433.0,114.1 435.0,112.2 437.0,111.0C439.0,109.8 441.0,108.7 443.0,108.0C445.7,107.1 448.3,106.0 451.0,106.0C453.7,106.0 456.3,106.0 459.0,106.0C461.0,106.0 463.0,109.7 465.0,112.0C467.0,114.3 469.0,117.7 471.0,120.0C473.0,122.3 475.0,124.6 477.0,126.0C479.7,127.8 482.3,128.9 485.0,130.0C487.7,131.1 490.3,131.4 493.0,133.0C495.0,134.2 497.0,137.3 499.0,140.0C501.0,142.7 503.0,146.7 505.0,150.0C507.0,153.3 509.0,157.0 511.0,160.0C513.0,163.0 515.0,165.5 517.0,168.0C519.0,170.5 521.0,173.3 523.0,175.0C525.0,176.7 527.0,179.0 529.0,179.0C531.0,179.0 532.9,179.0 534.9,179.0" fill="none" stroke="#00bfff" stroke-width="1.45" stroke-dasharray="5 2"/>
<path d="M340.0,115.0C341.7,117.7 343.3,120.4 345.0,123.0C347.0,126.1 349.0,129.9 351.0,132.0C353.0,134.1 355.0,136.4 357.0,137.0C359.0,137.6 361.0,138.0 363.0,138.0C364.7,138.0 366.3,135.7 368.0,134.0C369.7,132.3 371.3,128.0 373.0,127.0C374.7,126.0 376.3,125.0 378.0,125.0C380.3,125.0 382.7,127.5 385.0,129.0C387.7,130.7 390.3,134.4 393.0,135.0C395.7,135.6 398.3,136.0 401.0,136.0C403.7,136.0 406.3,135.2 409.0,134.4C411.7,133.6 414.3,131.3 417.0,129.0C419.7,126.7 422.3,122.2 425.0,119.0C427.7,115.8 430.3,112.2 433.0,110.0C435.0,108.3 437.0,107.0 439.0,106.0C440.3,105.3 441.7,104.4 443.0,104.4C445.7,104.4 448.3,104.7 451.0,105.0C453.7,105.3 456.3,106.0 459.0,107.0C461.7,108.0 464.3,110.5 467.0,112.0C469.7,113.5 472.3,114.9 475.0,116.0C477.7,117.1 480.3,117.5 483.0,119.0C485.0,120.1 487.0,122.6 489.0,125.0C491.0,127.4 493.0,131.3 495.0,134.0C497.7,137.7 500.3,141.5 503.0,144.0C505.7,146.5 508.3,148.2 511.0,150.0C513.7,151.8 516.3,153.8 519.0,155.0C521.7,156.2 524.3,157.3 527.0,158.0C529.6,158.7 532.3,159.3 534.9,159.6" fill="none" stroke="#000000" stroke-width="1.45" stroke-dasharray="5 2"/>
<path d="M330.2,5.9V228.0H545.3" fill="none" stroke="#3a3a3a" stroke-width="1.2"/>
<path d="M330.2,220.6h3.4M330.2,180.5h3.4M330.2,140.4h3.4M330.2,100.3h3.4M330.2,60.2h3.4M330.2,20.1h3.4M340.0,228.0v-4.3M352.2,228.0v-4.3M364.4,228.0v-4.3M376.5,228.0v-4.3M388.7,228.0v-4.3M400.9,228.0v-4.3M413.1,228.0v-4.3M425.3,228.0v-4.3M437.4,228.0v-4.3M449.6,228.0v-4.3M461.8,228.0v-4.3M474.0,228.0v-4.3M486.2,228.0v-4.3M498.3,228.0v-4.3M510.5,228.0v-4.3M522.7,228.0v-4.3M534.9,228.0v-4.3" stroke="#3a3a3a" stroke-width="1" fill="none"/>
<text x="326.6" y="225.1" text-anchor="end" font-size="13.0" textLength="27.6" lengthAdjust="spacingAndGlyphs">0.715</text>
<text x="326.6" y="185.0" text-anchor="end" font-size="13.0" textLength="27.6" lengthAdjust="spacingAndGlyphs">0.720</text>
<text x="326.6" y="144.9" text-anchor="end" font-size="13.0" textLength="27.6" lengthAdjust="spacingAndGlyphs">0.725</text>
<text x="326.6" y="104.8" text-anchor="end" font-size="13.0" textLength="27.6" lengthAdjust="spacingAndGlyphs">0.730</text>
<text x="326.6" y="64.7" text-anchor="end" font-size="13.0" textLength="27.6" lengthAdjust="spacingAndGlyphs">0.735</text>
<text x="326.6" y="24.6" text-anchor="end" font-size="13.0" textLength="27.6" lengthAdjust="spacingAndGlyphs">0.740</text>
<text x="340.0" y="237.9" text-anchor="middle" font-size="11.2" textLength="17.7" lengthAdjust="spacingAndGlyphs">120</text>
<text x="364.4" y="237.9" text-anchor="middle" font-size="11.2" textLength="17.7" lengthAdjust="spacingAndGlyphs">140</text>
<text x="388.7" y="237.9" text-anchor="middle" font-size="11.2" textLength="17.7" lengthAdjust="spacingAndGlyphs">160</text>
<text x="413.1" y="237.9" text-anchor="middle" font-size="11.2" textLength="17.7" lengthAdjust="spacingAndGlyphs">180</text>
<text x="437.4" y="237.9" text-anchor="middle" font-size="11.2" textLength="17.7" lengthAdjust="spacingAndGlyphs">200</text>
<text x="461.8" y="237.9" text-anchor="middle" font-size="11.2" textLength="17.7" lengthAdjust="spacingAndGlyphs">220</text>
<text x="486.2" y="237.9" text-anchor="middle" font-size="11.2" textLength="17.7" lengthAdjust="spacingAndGlyphs">240</text>
<text x="510.5" y="237.9" text-anchor="middle" font-size="11.2" textLength="17.7" lengthAdjust="spacingAndGlyphs">260</text>
<text x="534.9" y="237.9" text-anchor="middle" font-size="11.2" textLength="17.7" lengthAdjust="spacingAndGlyphs">280</text>
<text x="436.8" y="252.7" text-anchor="middle" font-size="13.3" textLength="27.5" lengthAdjust="spacingAndGlyphs">DOY</text>
<text transform="translate(292.9,115.4) rotate(-90)" text-anchor="middle" font-size="13.4" textLength="26.7" lengthAdjust="spacingAndGlyphs">REP</text>
<path d="M56.9,364.0C58.0,358.6 59.2,353.3 60.3,348.0C61.6,341.9 62.9,336.3 64.2,330.0C65.1,325.7 66.0,320.2 66.9,316.4C68.1,311.4 69.3,306.9 70.5,303.6C71.7,300.3 73.0,297.0 74.2,295.5C75.7,293.7 77.2,292.3 78.7,291.8C80.2,291.3 81.8,290.9 83.3,290.9C85.1,290.9 86.9,291.9 88.7,292.7C91.1,293.7 93.6,295.8 96.0,297.3C98.4,298.8 100.9,300.5 103.3,301.8C105.7,303.1 108.1,304.3 110.5,305.1C113.5,306.2 116.6,307.0 119.6,307.6C122.6,308.2 125.7,308.8 128.7,309.1C131.1,309.3 133.6,309.6 136.0,309.6C137.8,309.6 139.7,309.4 141.5,309.1C142.7,308.9 143.8,308.1 145.0,307.5C146.2,306.9 147.3,306.2 148.5,305.5C149.8,304.7 151.0,304.2 152.3,302.7C153.7,301.1 155.0,294.3 156.4,291.3C157.8,288.3 159.1,285.7 160.5,283.9C161.8,282.2 163.2,280.5 164.5,279.8C166.3,278.9 168.2,278.4 170.0,278.0C172.5,277.5 175.1,276.9 177.6,276.9C182.0,276.9 186.3,276.9 190.7,276.9C194.0,276.9 197.3,279.8 200.6,281.5C203.3,282.9 206.0,284.8 208.7,286.4C211.4,288.0 214.2,289.3 216.9,291.3C219.6,293.3 222.4,296.3 225.1,299.5C226.7,301.4 228.4,304.0 230.0,306.0C232.0,308.4 234.0,310.1 236.0,312.5C238.7,315.7 241.3,319.2 244.0,323.0C246.6,326.7 249.3,330.7 251.9,335.0L251.9,385.0C248.6,378.8 245.3,372.5 242.0,366.0C240.0,362.1 238.0,358.2 236.0,354.0C234.0,349.8 232.0,343.8 230.0,341.0C227.3,337.3 224.7,335.7 222.0,333.0C220.0,331.0 218.0,329.0 216.0,327.0C214.0,325.0 212.0,322.1 210.0,321.0C207.3,319.5 204.7,319.1 202.0,318.0C199.3,316.9 196.7,315.6 194.0,314.0C191.3,312.4 188.7,309.4 186.0,308.0C184.0,306.9 182.0,305.5 180.0,305.5C178.7,305.5 177.3,306.2 176.0,306.5C174.0,307.0 172.0,307.3 170.0,308.0C168.0,308.7 166.0,309.8 164.0,311.0C162.0,312.2 160.0,314.1 158.0,316.0C156.0,317.9 154.0,320.7 152.0,323.0C150.0,325.3 148.0,327.8 146.0,330.0C143.3,332.9 140.7,335.5 138.0,338.0C135.3,340.5 132.7,343.1 130.0,345.0C127.3,346.9 124.7,348.4 122.0,350.0C119.7,351.4 117.3,352.9 115.0,354.1C112.9,355.1 110.8,356.1 108.7,356.8C106.5,357.6 104.2,358.0 102.0,358.8C99.8,359.6 97.5,360.4 95.3,361.5C93.5,362.4 91.7,363.4 89.9,364.8C88.1,366.2 86.3,368.3 84.5,370.9C83.2,372.9 81.8,376.0 80.5,378.9C79.2,381.8 77.8,385.0 76.5,388.3C75.1,391.7 73.8,395.3 72.4,399.0C71.1,402.6 69.7,406.7 68.4,410.0C67.4,412.6 66.3,414.8 65.3,417.2C64.3,419.4 63.4,421.6 62.4,423.9C61.5,426.1 60.5,428.5 59.6,430.6C58.7,432.7 57.8,434.6 56.9,436.5Z" fill="#008000" fill-opacity="0.31" stroke="#008000" stroke-opacity="0.31" stroke-width="0.9"/>
<path d="M56.9,438.0C58.6,440.3 60.3,442.5 62.0,443.0C64.0,443.6 66.0,444.0 68.0,444.0C70.0,444.0 72.0,442.9 74.0,442.0C76.7,440.9 79.3,439.0 82.0,437.0C84.7,435.0 87.3,432.3 90.0,429.5C91.7,427.7 93.3,425.2 95.0,423.5C97.0,421.4 99.0,419.9 101.0,418.0C103.0,416.1 105.0,414.3 107.0,412.0C108.3,410.4 109.7,408.7 111.0,406.5C111.9,405.0 112.9,403.1 113.8,401.0C114.6,399.2 115.4,396.5 116.2,394.5C117.0,392.6 117.7,390.8 118.5,389.0C119.3,387.1 120.2,385.4 121.0,383.5C122.0,381.2 123.0,378.7 124.0,376.0C125.0,373.3 126.0,370.3 127.0,367.0C127.8,364.3 128.7,360.8 129.5,358.0C130.5,354.6 131.6,351.5 132.6,348.4C133.9,344.5 135.2,341.3 136.5,336.8C137.6,332.9 138.8,327.5 139.9,323.0C141.1,318.3 142.2,312.9 143.4,309.2C144.4,305.9 145.5,302.9 146.5,301.0C147.6,298.9 148.7,297.9 149.8,296.2C151.4,293.7 153.1,289.9 154.7,288.0C156.9,285.5 159.1,283.2 161.3,282.3C164.0,281.2 166.8,280.1 169.5,280.1C172.8,280.1 176.0,280.1 179.3,280.1C182.6,280.1 185.8,281.8 189.1,283.1C191.8,284.2 194.6,286.7 197.3,288.0C200.0,289.3 202.8,290.1 205.5,291.3C207.7,292.3 209.8,292.9 212.0,294.5C213.6,295.7 215.3,298.2 216.9,301.1C218.0,303.1 219.1,306.3 220.2,309.3C221.3,312.3 222.4,315.3 223.5,319.1C224.3,321.9 225.1,325.7 225.9,328.9C226.7,332.2 227.6,336.2 228.4,338.7C229.6,342.2 230.8,344.6 232.0,347.0C233.3,349.7 234.7,351.5 236.0,354.0C238.0,357.7 240.0,362.1 242.0,366.0C245.3,372.5 248.6,378.8 251.9,385.0L251.9,443.0C249.3,437.7 246.6,433.2 244.0,430.0C242.0,427.5 240.0,426.5 238.0,424.0C236.0,421.5 234.0,418.6 232.0,414.0C230.7,410.9 229.3,405.4 228.0,400.0C227.0,396.0 226.0,391.0 225.0,386.0C224.0,381.0 223.0,377.0 222.0,370.0C221.0,363.0 220.0,345.7 219.0,340.0C218.0,334.3 217.0,329.9 216.0,328.0C214.0,324.2 212.0,322.2 210.0,321.0C207.3,319.4 204.7,319.1 202.0,318.0C199.3,316.9 196.7,315.6 194.0,314.0C191.3,312.4 188.7,309.6 186.0,308.0C184.0,306.8 182.0,305.0 180.0,305.0C178.7,305.0 177.3,305.6 176.0,306.0C174.0,306.6 171.9,307.1 169.9,308.0C168.0,308.9 166.0,310.1 164.1,312.0C162.4,313.6 160.7,316.6 159.0,320.0C157.6,322.9 156.1,326.9 154.7,332.0C153.6,336.0 152.4,342.5 151.3,348.0C150.3,352.9 149.3,358.9 148.3,363.0C147.0,368.2 145.8,371.8 144.5,376.0C143.3,379.9 142.2,383.6 141.0,387.5C139.9,391.1 138.8,394.8 137.7,398.5C136.6,402.2 135.5,406.1 134.4,409.5C133.0,413.9 131.5,417.8 130.1,421.5C128.5,425.6 127.0,429.5 125.4,433.0C123.6,437.0 121.9,440.7 120.1,444.0C118.1,447.7 116.2,451.0 114.2,454.0C111.5,458.1 108.9,462.2 106.2,465.0C104.1,467.2 102.1,468.7 100.0,470.5C98.7,471.7 97.3,472.9 96.0,474.0C93.3,476.2 90.7,478.7 88.0,480.0C85.3,481.3 82.7,483.0 80.0,483.0C76.7,483.0 73.3,483.0 70.0,483.0C67.3,483.0 64.7,481.6 62.0,481.0C60.3,480.6 58.6,480.3 56.9,480.0Z" fill="#a52a2a" fill-opacity="0.37" stroke="#a52a2a" stroke-opacity="0.37" stroke-width="0.9"/>
<path d="M56.9,444.0C58.6,444.7 60.3,445.4 62.0,446.0C64.0,446.7 66.0,448.0 68.0,448.0C70.0,448.0 72.0,446.9 74.0,446.0C76.7,444.8 79.3,442.2 82.0,440.0C84.7,437.8 87.3,435.5 90.0,433.0C91.7,431.4 93.3,429.4 95.0,428.0C97.3,426.0 99.7,424.8 102.0,423.0C104.3,421.2 106.7,419.5 109.0,417.0C110.4,415.5 111.8,413.6 113.2,411.5C114.4,409.7 115.6,407.5 116.8,405.0C117.8,403.0 118.7,400.3 119.7,398.0C120.5,396.2 121.2,394.2 122.0,392.5C122.9,390.4 123.9,388.9 124.8,386.8C125.8,384.5 126.8,381.7 127.8,379.2C129.0,376.1 130.2,373.4 131.4,370.0C132.5,367.0 133.5,363.6 134.6,360.0C135.7,356.4 136.7,351.3 137.8,348.4C139.3,344.4 140.7,342.1 142.2,339.1C144.1,335.1 146.1,330.5 148.0,327.6C149.5,325.3 151.1,323.4 152.6,322.0C153.9,320.8 155.1,320.3 156.4,319.1C158.6,317.0 160.7,311.6 162.9,309.3C165.6,306.4 168.4,304.0 171.1,302.7C174.4,301.2 177.6,299.9 180.9,299.5C184.7,299.0 188.6,298.6 192.4,298.6C196.2,298.6 200.0,298.9 203.8,299.5C206.0,299.8 208.2,300.9 210.4,302.7C211.8,303.8 213.1,307.1 214.5,310.9C215.3,313.1 216.1,317.2 216.9,320.7C217.7,324.3 218.6,328.6 219.4,332.2C220.2,335.7 221.0,338.9 221.8,342.0C222.5,344.8 223.3,347.7 224.0,350.0C225.0,353.1 226.0,355.3 227.0,358.0C228.0,360.7 229.0,363.0 230.0,366.0C231.3,370.0 232.7,375.0 234.0,380.0C235.3,385.0 236.7,391.4 238.0,396.0C239.3,400.6 240.7,404.4 242.0,408.0C243.7,412.5 245.3,416.3 247.0,420.0C248.6,423.6 250.3,427.0 251.9,430.0L251.9,470.0C249.3,468.1 246.6,465.2 244.0,462.0C242.0,459.6 240.0,456.8 238.0,453.0C236.7,450.5 235.3,447.1 234.0,443.0C232.7,438.9 231.3,433.1 230.0,427.0C229.0,422.4 228.0,416.2 227.0,411.0C226.0,405.8 225.0,401.2 224.0,396.0C223.0,390.8 222.0,385.7 221.0,380.0C220.3,376.2 219.7,372.8 219.0,368.0C218.5,364.4 218.0,359.5 217.5,355.0C217.0,350.8 216.6,344.4 216.1,342.0C215.3,337.8 214.4,335.9 213.6,333.8C212.5,331.1 211.5,328.5 210.4,327.3C208.2,324.8 206.0,323.6 203.8,322.4C201.1,321.0 198.3,319.1 195.6,319.1C192.9,319.1 190.2,319.1 187.5,319.1C184.2,319.1 180.9,320.8 177.6,322.4C174.9,323.7 172.2,326.4 169.5,328.9C167.5,330.8 165.5,332.8 163.5,335.5C162.0,337.5 160.5,340.1 159.0,343.0C157.6,345.7 156.1,349.0 154.7,352.5C153.1,356.3 151.6,360.8 150.0,365.0C148.5,369.0 147.1,372.8 145.6,377.0C144.4,380.5 143.2,384.2 142.0,388.0C140.9,391.6 139.7,395.3 138.6,399.0C137.5,402.6 136.4,406.6 135.3,410.0C133.9,414.4 132.4,418.3 131.0,422.0C129.4,426.1 127.9,430.0 126.3,433.5C124.5,437.5 122.8,441.2 121.0,444.5C119.0,448.2 117.1,451.5 115.1,454.5C112.4,458.6 109.8,462.6 107.1,465.5C104.7,468.1 102.4,469.7 100.0,472.0C98.7,473.3 97.3,474.8 96.0,476.0C93.3,478.3 90.7,480.7 88.0,482.0C85.3,483.3 82.7,485.0 80.0,485.0C76.7,485.0 73.3,484.8 70.0,484.6C67.3,484.4 64.7,483.2 62.0,482.6C60.3,482.2 58.6,481.8 56.9,481.4Z" fill="#0000ff" fill-opacity="0.3" stroke="#0000ff" stroke-opacity="0.3" stroke-width="0.9"/>
<path d="M56.9,467.0C58.6,469.3 60.3,471.3 62.0,472.0C64.0,472.8 66.0,473.4 68.0,473.4C70.0,473.4 72.0,472.2 74.0,471.0C75.7,470.0 77.3,467.7 79.0,465.0C80.3,462.8 81.7,458.0 83.0,455.0C84.3,452.0 85.7,448.3 87.0,447.0C88.0,446.0 89.0,445.8 90.0,445.0C92.0,443.4 94.1,440.8 96.1,438.9C97.9,437.2 99.7,436.1 101.5,434.3C102.8,433.0 104.0,431.8 105.3,429.7C106.3,428.0 107.4,425.0 108.4,422.0C109.2,419.8 109.9,416.9 110.7,414.4C111.5,411.9 112.2,409.2 113.0,406.7C113.8,404.2 114.5,401.6 115.3,399.1C116.1,396.6 116.8,393.6 117.6,391.4C118.6,388.5 119.6,386.3 120.6,383.8C121.6,381.2 122.7,378.8 123.7,376.1C124.5,374.1 125.2,372.0 126.0,370.0C127.3,366.6 128.7,363.6 130.0,360.0C131.3,356.4 132.7,351.8 134.0,348.0C135.0,345.2 136.0,342.1 137.0,340.0C138.3,337.2 139.7,334.7 141.0,333.0C142.7,330.9 144.3,329.1 146.0,328.0C147.3,327.1 148.7,326.0 150.0,326.0C152.0,326.0 154.0,326.5 156.0,327.0C158.0,327.5 160.0,330.5 162.0,331.0C164.0,331.5 166.0,332.0 168.0,332.0C170.0,332.0 172.0,330.7 174.0,330.0C176.7,329.1 179.3,327.0 182.0,327.0C184.7,327.0 187.3,327.2 190.0,327.6C192.0,327.9 194.0,330.1 196.0,332.0C198.0,333.9 200.0,337.0 202.0,340.0C204.0,343.0 206.0,346.4 208.0,350.0C210.0,353.6 212.0,357.3 214.0,362.0C215.7,365.9 217.3,370.5 219.0,376.0C220.3,380.4 221.7,387.0 223.0,392.0C224.3,397.0 225.7,401.8 227.0,406.0C228.7,411.2 230.3,416.1 232.0,420.0C234.0,424.7 236.0,428.8 238.0,432.0C240.0,435.2 242.0,438.5 244.0,440.0C246.6,442.0 249.3,443.9 251.9,444.0" fill="none" stroke="#ffa500" stroke-width="1.45" stroke-dasharray="5 2"/>
<path d="M56.9,430.0C59.3,429.4 61.6,428.5 64.0,427.5C66.7,426.4 69.3,424.6 72.0,423.0C74.7,421.4 77.3,419.5 80.0,417.5C83.3,415.0 86.7,412.1 90.0,409.0C92.6,406.6 95.1,403.6 97.7,401.2C100.2,398.8 102.8,396.5 105.3,394.5C107.9,392.5 110.4,391.1 113.0,389.1C115.5,387.1 118.1,384.9 120.6,382.2C122.6,380.1 124.7,377.2 126.7,374.6C127.8,373.1 129.0,371.3 130.1,370.0C132.1,367.7 134.0,366.1 136.0,364.0C138.7,361.2 141.3,358.3 144.0,355.0C146.0,352.5 148.0,348.9 150.0,347.0C152.7,344.4 155.3,342.6 158.0,341.0C160.7,339.4 163.3,337.8 166.0,337.0C169.3,336.0 172.7,335.0 176.0,335.0C179.3,335.0 182.7,335.0 186.0,335.0C189.3,335.0 192.7,335.4 196.0,336.0C198.7,336.5 201.3,338.4 204.0,340.0C206.7,341.6 209.3,343.7 212.0,346.0C214.7,348.3 217.3,351.3 220.0,354.0C222.7,356.7 225.3,358.6 228.0,362.0C230.0,364.5 232.0,368.8 234.0,372.0C236.7,376.2 239.3,379.8 242.0,384.0C244.0,387.2 246.0,391.1 248.0,394.0C249.3,395.9 250.6,397.5 251.9,399.0" fill="none" stroke="#00ff00" stroke-width="1.45" stroke-dasharray="5 2"/>
<path d="M56.9,417.0C59.3,417.9 61.6,418.7 64.0,419.0C66.7,419.3 69.3,419.6 72.0,419.6C74.7,419.6 77.3,418.1 80.0,417.0C82.0,416.2 84.0,415.3 86.0,414.0C87.3,413.1 88.7,412.0 90.0,410.6C92.0,408.5 94.1,405.0 96.1,402.1C98.1,399.2 100.2,396.0 102.2,393.0C104.3,389.9 106.3,386.6 108.4,383.8C110.4,381.0 112.5,378.5 114.5,376.1C116.3,374.0 118.0,372.1 119.8,370.0C121.9,367.5 123.9,364.3 126.0,362.0C128.7,359.0 131.3,356.1 134.0,354.0C136.7,351.9 139.3,351.3 142.0,349.0C144.7,346.7 147.3,341.3 150.0,338.0C152.7,334.7 155.3,330.5 158.0,329.0C160.7,327.5 163.3,326.0 166.0,326.0C169.3,326.0 172.7,326.0 176.0,326.0C179.3,326.0 182.7,326.2 186.0,326.4C188.7,326.6 191.3,327.9 194.0,329.0C196.7,330.1 199.3,332.3 202.0,334.0C204.7,335.7 207.3,337.3 210.0,339.0C212.7,340.7 215.3,342.2 218.0,344.0C220.7,345.8 223.3,347.7 226.0,350.0C228.7,352.3 231.3,354.7 234.0,358.0C236.7,361.3 239.3,367.0 242.0,371.0C245.3,376.0 248.6,380.7 251.9,385.0" fill="none" stroke="#888888" stroke-width="1.45" stroke-dasharray="5 2"/>
<path d="M56.9,422.5C57.8,421.0 58.7,419.6 59.6,418.2C60.9,416.2 62.1,414.3 63.4,412.4C64.4,410.9 65.4,409.6 66.4,408.0C68.0,405.4 69.5,402.3 71.1,399.0C72.4,396.2 73.8,392.8 75.1,389.7C76.5,386.5 77.8,383.5 79.2,380.3C80.5,377.2 81.9,373.8 83.2,370.9C84.5,368.0 85.9,365.2 87.2,362.8C88.5,360.4 89.9,357.8 91.2,356.1C93.0,353.8 94.8,352.1 96.6,350.7C98.8,349.0 101.1,347.9 103.3,346.7C105.5,345.5 107.8,344.4 110.0,343.4C111.7,342.6 113.3,342.0 115.0,341.3C118.0,340.0 121.0,338.3 124.0,337.0C127.3,335.5 130.7,334.3 134.0,333.0C137.3,331.7 140.7,330.5 144.0,329.0C146.0,328.1 148.0,326.8 150.0,326.0C153.3,324.7 156.7,323.5 160.0,323.0C163.3,322.5 166.7,322.2 170.0,322.0C173.3,321.8 176.7,321.6 180.0,321.6C183.3,321.6 186.7,322.0 190.0,322.4C193.3,322.8 196.7,323.9 200.0,325.0C203.3,326.1 206.7,328.0 210.0,330.0C212.7,331.6 215.3,333.7 218.0,336.0C220.7,338.3 223.3,341.0 226.0,344.0C228.7,347.0 231.3,350.6 234.0,354.0C236.0,356.6 238.0,358.8 240.0,362.0C242.0,365.2 244.0,370.3 246.0,374.0C248.0,377.6 249.9,381.0 251.9,384.0" fill="none" stroke="#006400" stroke-width="1.45" stroke-dasharray="5 2"/>
<path d="M56.9,393.0C58.5,393.4 60.1,393.4 61.7,393.4C63.5,393.4 65.3,392.5 67.1,391.7C68.9,391.0 70.6,389.6 72.4,388.3C74.2,387.0 76.0,385.2 77.8,383.6C79.6,382.0 81.4,380.4 83.2,378.9C85.4,377.0 87.7,375.1 89.9,373.6C92.1,372.1 94.4,370.6 96.6,369.5C98.8,368.4 101.1,367.4 103.3,366.8C105.5,366.2 107.8,366.1 110.0,365.5C111.7,365.1 113.3,364.6 115.0,363.5C116.3,362.7 117.7,360.1 119.0,358.0C120.3,355.9 121.7,352.7 123.0,351.0C124.7,348.9 126.3,346.9 128.0,346.0C130.7,344.5 133.3,343.8 136.0,343.0C138.7,342.2 141.3,342.2 144.0,341.0C146.0,340.1 148.0,334.5 150.0,331.0C152.0,327.5 154.0,323.3 156.0,320.0C158.0,316.7 160.0,313.0 162.0,311.0C164.7,308.3 167.3,305.8 170.0,305.0C172.7,304.2 175.3,303.6 178.0,303.6C180.7,303.6 183.3,306.3 186.0,308.0C188.7,309.7 191.3,312.2 194.0,314.0C196.7,315.8 199.3,317.8 202.0,319.0C204.7,320.2 207.3,321.0 210.0,322.0C212.7,323.0 215.3,323.9 218.0,325.0C220.7,326.1 223.3,327.3 226.0,329.0C228.7,330.7 231.3,333.3 234.0,336.0C236.7,338.7 239.3,342.6 242.0,346.0C244.0,348.6 246.0,351.4 248.0,354.0C249.3,355.7 250.6,357.4 251.9,359.0" fill="none" stroke="#00bfff" stroke-width="1.45" stroke-dasharray="5 2"/>
<path d="M56.9,431.0C59.9,430.3 63.0,429.6 66.0,429.0C69.3,428.3 72.7,427.9 76.0,427.0C78.7,426.3 81.3,425.2 84.0,424.0C86.0,423.1 88.0,421.8 90.0,421.0C92.6,420.0 95.1,419.3 97.7,418.5C100.2,417.7 102.8,417.1 105.3,416.0C107.3,415.1 109.4,413.8 111.4,412.1C113.2,410.6 115.0,407.8 116.8,405.2C118.3,403.0 119.9,400.2 121.4,397.6C122.9,395.0 124.5,392.0 126.0,389.5C127.8,386.6 129.5,383.6 131.3,381.5C133.4,379.0 135.4,377.1 137.5,375.4C139.8,373.6 142.0,372.6 144.3,370.8C146.2,369.3 148.1,367.1 150.0,365.5C152.7,363.3 155.3,361.3 158.0,359.5C161.3,357.3 164.7,355.0 168.0,353.5C171.3,352.0 174.7,350.0 178.0,350.0C181.3,350.0 184.7,351.3 188.0,352.0C191.3,352.7 194.7,353.0 198.0,354.0C200.7,354.8 203.3,356.2 206.0,358.0C208.7,359.8 211.3,363.3 214.0,366.0C216.7,368.7 219.3,371.3 222.0,374.0C224.7,376.7 227.3,379.0 230.0,382.0C232.7,385.0 235.3,388.7 238.0,392.0C240.7,395.3 243.3,399.7 246.0,402.0C248.0,403.7 249.9,405.1 251.9,406.0" fill="none" stroke="#000000" stroke-width="1.45" stroke-dasharray="5 2"/>
<path d="M47.4,266.5V495.4H262.3" fill="none" stroke="#3a3a3a" stroke-width="1.2"/>
<path d="M47.4,272.5h3.6M47.4,298.5h3.6M47.4,324.5h3.6M47.4,350.5h3.6M47.4,376.5h3.6M47.4,402.5h3.6M47.4,428.5h3.6M47.4,454.5h3.6M47.4,480.5h3.6M56.9,495.4v-4.3M69.1,495.4v-4.3M81.3,495.4v-4.3M93.5,495.4v-4.3M105.7,495.4v-4.3M117.8,495.4v-4.3M130.0,495.4v-4.3M142.2,495.4v-4.3M154.4,495.4v-4.3M166.6,495.4v-4.3M178.8,495.4v-4.3M191.0,495.4v-4.3M203.2,495.4v-4.3M215.3,495.4v-4.3M227.5,495.4v-4.3M239.7,495.4v-4.3M251.9,495.4v-4.3" stroke="#3a3a3a" stroke-width="1" fill="none"/>
<text x="44.4" y="276.9" text-anchor="end" font-size="13.0" textLength="15.7" lengthAdjust="spacingAndGlyphs">0.5</text>
<text x="44.4" y="302.9" text-anchor="end" font-size="13.0" textLength="15.7" lengthAdjust="spacingAndGlyphs">0.4</text>
<text x="44.4" y="328.9" text-anchor="end" font-size="13.0" textLength="15.7" lengthAdjust="spacingAndGlyphs">0.3</text>
<text x="44.4" y="354.9" text-anchor="end" font-size="13.0" textLength="15.7" lengthAdjust="spacingAndGlyphs">0.2</text>
<text x="44.4" y="380.9" text-anchor="end" font-size="13.0" textLength="15.7" lengthAdjust="spacingAndGlyphs">0.1</text>
<text x="44.4" y="406.9" text-anchor="end" font-size="13.0" textLength="15.7" lengthAdjust="spacingAndGlyphs">0.0</text>
<text x="44.4" y="432.9" text-anchor="end" font-size="13.0" textLength="15.7" lengthAdjust="spacingAndGlyphs">0.1</text>
<text x="44.4" y="458.9" text-anchor="end" font-size="13.0" textLength="15.7" lengthAdjust="spacingAndGlyphs">0.2</text>
<text x="44.4" y="484.9" text-anchor="end" font-size="13.0" textLength="15.7" lengthAdjust="spacingAndGlyphs">0.3</text>
<text x="56.9" y="505.5" text-anchor="middle" font-size="11.2" textLength="17.7" lengthAdjust="spacingAndGlyphs">120</text>
<text x="81.3" y="505.5" text-anchor="middle" font-size="11.2" textLength="17.7" lengthAdjust="spacingAndGlyphs">140</text>
<text x="105.7" y="505.5" text-anchor="middle" font-size="11.2" textLength="17.7" lengthAdjust="spacingAndGlyphs">160</text>
<text x="130.0" y="505.5" text-anchor="middle" font-size="11.2" textLength="17.7" lengthAdjust="spacingAndGlyphs">180</text>
<text x="154.4" y="505.5" text-anchor="middle" font-size="11.2" textLength="17.7" lengthAdjust="spacingAndGlyphs">200</text>
<text x="178.8" y="505.5" text-anchor="middle" font-size="11.2" textLength="17.7" lengthAdjust="spacingAndGlyphs">220</text>
<text x="203.2" y="505.5" text-anchor="middle" font-size="11.2" textLength="17.7" lengthAdjust="spacingAndGlyphs">240</text>
<text x="227.5" y="505.5" text-anchor="middle" font-size="11.2" textLength="17.7" lengthAdjust="spacingAndGlyphs">260</text>
<text x="251.9" y="505.5" text-anchor="middle" font-size="11.2" textLength="17.7" lengthAdjust="spacingAndGlyphs">280</text>
<text x="155.5" y="517.1" text-anchor="middle" font-size="13.2" textLength="26.0" lengthAdjust="spacingAndGlyphs">DOY</text>
<text transform="translate(16.1,382.7) rotate(-90)" text-anchor="middle" font-size="13.4" textLength="31.9" lengthAdjust="spacingAndGlyphs">LSWI</text>
<path d="M325,351.0H351.1" stroke="#ffa500" stroke-width="1.45" stroke-dasharray="5 2" fill="none"/>
<text x="362.6" y="355.9" font-size="13.3" textLength="34.2" lengthAdjust="spacingAndGlyphs">wheat</text>
<path d="M325,370.0H351.1" stroke="#00ff00" stroke-width="1.45" stroke-dasharray="5 2" fill="none"/>
<text x="362.6" y="374.9" font-size="13.3" textLength="55.6" lengthAdjust="spacingAndGlyphs">grassland</text>
<path d="M325,389.0H351.1" stroke="#888888" stroke-width="1.45" stroke-dasharray="5 2" fill="none"/>
<text x="362.6" y="393.9" font-size="13.3" textLength="44.2" lengthAdjust="spacingAndGlyphs">wetland</text>
<path d="M325,408.0H351.1" stroke="#006400" stroke-width="1.45" stroke-dasharray="5 2" fill="none"/>
<text x="362.6" y="412.9" font-size="13.3" textLength="32.1" lengthAdjust="spacingAndGlyphs">forest</text>
<path d="M325,427.0H351.1" stroke="#00bfff" stroke-width="1.45" stroke-dasharray="5 2" fill="none"/>
<text x="362.6" y="431.9" font-size="13.3" textLength="31.4" lengthAdjust="spacingAndGlyphs">water</text>
<path d="M445.8,351.0H471.9" stroke="#000" stroke-width="1.45" stroke-dasharray="5 2" fill="none"/>
<text x="482.4" y="355.9" font-size="13.3" textLength="44.2" lengthAdjust="spacingAndGlyphs">building</text>
<rect x="445.8" y="365.1" width="26.6" height="9.6" fill="#008000" fill-opacity="0.31" stroke="#008000" stroke-opacity="0.31" stroke-width="0.6"/>
<text x="482.4" y="374.9" font-size="13.3" textLength="20.7" lengthAdjust="spacingAndGlyphs">rice</text>
<rect x="445.8" y="384.1" width="26.6" height="9.6" fill="#a52a2a" fill-opacity="0.37" stroke="#a52a2a" stroke-opacity="0.37" stroke-width="0.6"/>
<text x="482.4" y="393.9" font-size="13.3" textLength="25.0" lengthAdjust="spacingAndGlyphs">corn</text>
<rect x="445.8" y="403.1" width="26.6" height="9.6" fill="#0000ff" fill-opacity="0.3" stroke="#0000ff" stroke-opacity="0.3" stroke-width="0.6"/>
<text x="482.4" y="412.9" font-size="13.3" textLength="20.0" lengthAdjust="spacingAndGlyphs">soy</text>
</svg>
</body></html>
